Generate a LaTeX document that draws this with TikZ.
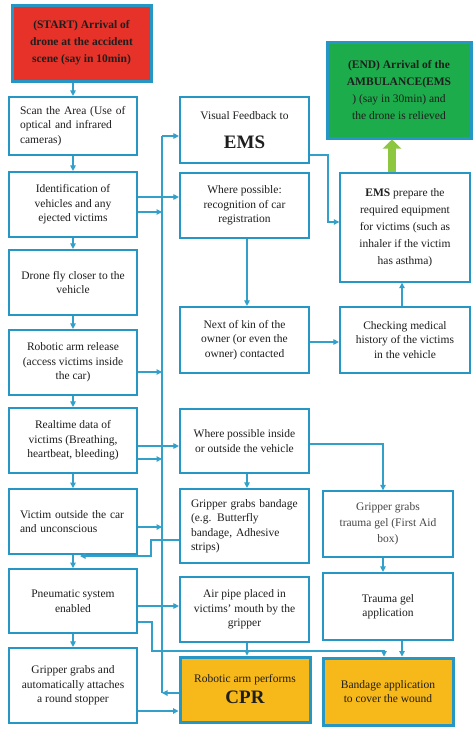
\documentclass[tikz,border=0pt]{standalone}
\usepackage{fontspec}
\setmainfont{Liberation Serif}
\usetikzlibrary{arrows.meta}
\definecolor{bc}{RGB}{38,150,196}
\definecolor{lc}{RGB}{50,160,200}
\definecolor{startred}{RGB}{230,50,40}
\definecolor{endgreen}{RGB}{28,172,75}
\definecolor{garrow}{RGB}{141,198,63}
\definecolor{orangefill}{RGB}{247,184,25}
\definecolor{txt}{RGB}{30,30,30}
\tikzset{
  box/.style={draw=bc, line width=2.2pt, fill=white, inner sep=0pt, align=center,
    text=txt, font=\fontsize{11.5}{14.5}\selectfont},
  thinbox/.style={box, line width=1.4pt},
  lbox/.style={box, align=left},
  conn/.style={draw=lc, line width=1.1pt},
  arr/.style={conn, -{Triangle[width=5.5pt,length=5.5pt]}},
  bigarr/.style={draw=garrow, line width=8pt, -{Triangle[width=18pt,length=9pt]}},
  startbox/.style={box, fill=startred, line width=3pt, font=\fontsize{11.5}{17}\selectfont\bfseries},
  endbox/.style={box, fill=endgreen, line width=3pt, font=\fontsize{11.5}{17}\selectfont},
  orbox/.style={box, fill=orangefill, line width=3pt},
}
\begin{document}
\begin{tikzpicture}[x=1pt, y=-1pt]
\useasboundingbox (0,0) rectangle (474,729);
% left column
\node[startbox, minimum width=139, minimum height=76] (start) at (81.5,43) {(START) Arrival of\\drone at the accident\\scene (say in 10min)};
\node[lbox, minimum width=128, minimum height=58, text width=106] (scan) at (73,126) {Scan the Area (Use of\\optical and infrared\\cameras)};
\node[box, minimum width=128, minimum height=65] (ident) at (73,204.5) {Identification of\\vehicles and any\\ejected victims};
\node[box, minimum width=128, minimum height=65] (drone) at (73,282.5) {Drone fly closer to the\\vehicle};
\node[box, minimum width=128, minimum height=65] (robot) at (73,362.5) {Robotic arm release\\(access victims inside\\the car)};
\node[box, minimum width=128, minimum height=65] (realt) at (73,440.5) {Realtime data of\\victims (Breathing,\\heartbeat, bleeding)};
\node[lbox, minimum width=128, minimum height=65, text width=106, line width=1.8pt] (victim) at (73,521.5) {Victim outside the car\\and unconscious};
\node[box, minimum width=128, minimum height=64, line width=1.8pt] (pneu) at (73,601) {Pneumatic system\\enabled};
\node[box, minimum width=128, minimum height=75] (stopper) at (73,685.5) {Gripper grabs and\\automatically attaches\\a round stopper};
% middle column
\node[box, minimum width=129, minimum height=66] (vis) at (244.5,130) {Visual Feedback to\\[14pt]{\fontsize{19}{19}\selectfont\bfseries EMS}};
\node[box, minimum width=129, minimum height=65] (recog) at (244.5,205.5) {Where possible:\\recognition of car\\registration};
\node[box, minimum width=129, minimum height=66] (kin) at (244.5,340) {Next of kin of the\\owner (or even the\\owner) contacted};
\node[box, minimum width=129, minimum height=64] (inside) at (244.5,441) {Where possible inside\\or outside the vehicle};
\node[lbox, minimum width=129, minimum height=74, text width=107] (gripband) at (244.5,526) {Gripper grabs bandage\\(e.g. Butterfly\\bandage, Adhesive\\strips)};
\node[box, minimum width=129, minimum height=65] (airpipe) at (244.5,609.5) {Air pipe placed in\\victims’ mouth by the\\gripper};
\node[orbox, minimum width=130, minimum height=65] (cpr) at (245,689.5) {Robotic arm performs\\[5pt]{\fontsize{19}{19}\selectfont\bfseries CPR}};
% right column
\node[endbox, minimum width=144, minimum height=96] (end) at (399,90) {\textbf{(END) Arrival of the}\\\textbf{AMBULANCE(EMS}\\) (say in 30min) and\\the drone is relieved};
\node[thinbox, minimum width=130, minimum height=109, font=\fontsize{11.5}{17}\selectfont] (emsprep) at (405,227.5) {\textbf{EMS} prepare the\\required equipment\\for victims (such as\\inhaler if the victim\\has asthma)};
\node[box, minimum width=130, minimum height=66] (check) at (405,340) {Checking medical\\history of the victims\\in the vehicle};
\node[thinbox, minimum width=130, minimum height=66, font=\fontsize{11.5}{16}\selectfont, text={rgb,255:red,70;green,70;blue,70}] (tgrab) at (388,524) {Gripper grabs\\trauma gel (First Aid\\box)};
\node[box, minimum width=130, minimum height=67] (tapp) at (388,606.5) {Trauma gel\\application};
\node[orbox, minimum width=130, minimum height=67] (bandapp) at (388,691.5) {Bandage application\\to cover the wound};
% bus
\coordinate (bt) at (162,136);
\coordinate (bb) at (162,693);
\draw[conn] (bb) -- (bt);
\draw[arr] (bt) -- (bt -| vis.west);
% left column chain
\draw[arr] (scan.north |- start.south) -- (scan.north);
\draw[arr] (scan) -- (ident);
\draw[arr] (ident) -- (drone);
\draw[arr] (drone) -- (robot);
\draw[arr] (robot) -- (realt);
\draw[arr] (realt) -- (victim);
\draw[arr] (victim) -- (pneu);
\draw[arr] (pneu) -- (stopper);
% left to bus / middle
\draw[arr] (ident.east |- 0,197) -- (recog.west |- 0,197);
\draw[arr] (ident.east |- 0,212) -- (bt |- 0,212);
\draw[arr] (robot.east |- 0,372) -- (bt |- 0,372);
\draw[arr] (realt.east |- 0,446) -- (inside.west |- 0,446);
\draw[arr] (realt.east |- 0,459) -- (bt |- 0,459);
\draw[arr] (victim.east |- 0,527) -- (bt |- 0,527);
\draw[arr] (pneu.east |- 0,606) -- (airpipe.west |- 0,606);
\draw[arr] (pneu.east |- 0,622) -- (152,622) -- (152,651) -- (384,651) -- (bandapp.north -| 384,0);
\draw[arr] (stopper.east |- 0,711) -- (cpr.west |- 0,711);
\draw[arr] (cpr.west |- 0,693) -- (bb);
\draw[arr] (gripband.west |- 0,540) -- (151,540) -- (151,556) -- (80,556);
% middle / right
\draw[arr] (vis.east |- 0,155) -- (328,155) -- (328,222) -- (emsprep.west |- 0,222);
\draw[arr] (recog.south -| 247,0) -- (kin.north -| 247,0);
\draw[arr] (kin.east |- 0,342) -- (check.west |- 0,342);
\draw[arr] (check.north -| 402,0) -- (emsprep.south -| 402,0);
\draw[bigarr] (emsprep.north -| 392,0) -- (end.south -| 392,0);
\draw[arr] (inside.south -| 247,0) -- (gripband.north -| 247,0);
\draw[arr] (inside.east |- 0,444) -- (383,444) -- (tgrab.north -| 383,0);
\draw[arr] (tgrab.south -| 383,0) -- (tapp.north -| 383,0);
\draw[arr] (tapp.south -| 402,0) -- (bandapp.north -| 402,0);
\draw[arr] (airpipe.south -| 247,0) -- (cpr.north -| 247,0);
\end{tikzpicture}
\end{document}
